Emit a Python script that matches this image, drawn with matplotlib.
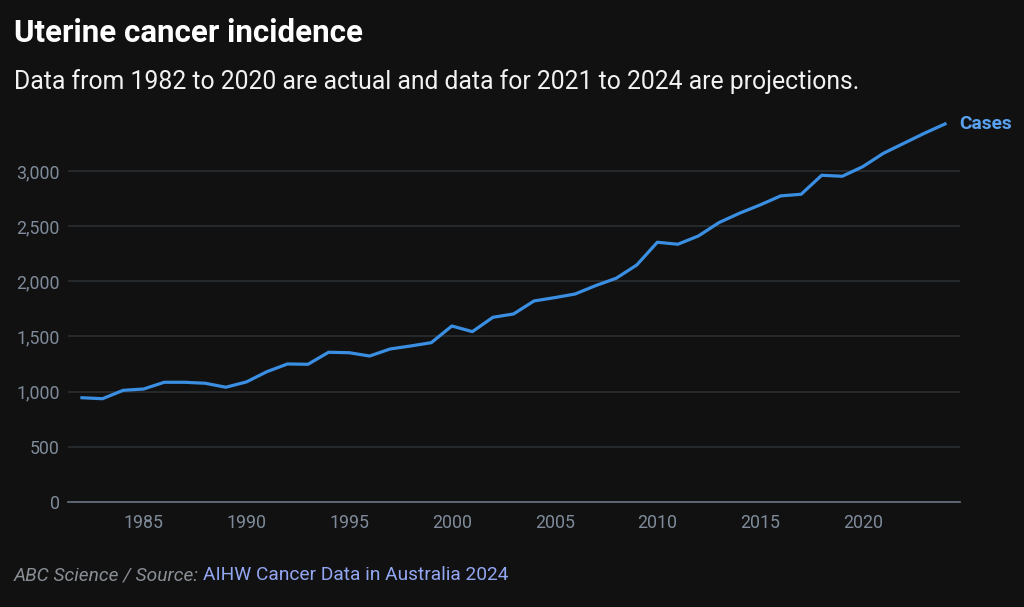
import matplotlib
matplotlib.use("Agg")
import matplotlib.pyplot as plt
from matplotlib.ticker import FuncFormatter

years = list(range(1982, 2025))
cases = [945, 936, 1012, 1024, 1085, 1085, 1076, 1040, 1088, 1181,
         1251, 1248, 1357, 1353, 1323, 1387, 1414, 1444, 1595, 1544,
         1674, 1704, 1822, 1852, 1885, 1961, 2028, 2148, 2354, 2336,
         2411, 2532, 2617, 2692, 2774, 2789, 2961, 2952, 3039, 3160,
         3251, 3342, 3426]
xticks = [1985, 1990, 1995, 2000, 2005, 2010, 2015, 2020]
yticks = [0, 500, 1000, 1500, 2000, 2500, 3000]

BG = "#111111"
LINE = "#3b8fe2"
LABEL = "#5aa2f0"
GRID = "#2b2e31"
TICK = "#7f8b9a"

plt.rcParams['font.family'] = ['Roboto', 'DejaVu Sans']

fig = plt.figure(figsize=(10.24, 6.07), dpi=100, facecolor=BG)
ax = fig.add_axes([68/1024, 1-502/607, (960-68)/1024, (502-115.8)/607])
ax.set_facecolor(BG)
ax.plot(years, cases, color=LINE, lw=2.3, solid_joinstyle='round', clip_on=False)
ax.set_xlim(1981.32, 2024.73)
ax.set_ylim(0, 3500)
ax.set_xticks(xticks)
ax.set_yticks(yticks)
ax.yaxis.set_major_formatter(FuncFormatter(lambda v, p: f"{int(v):,}"))
ax.tick_params(axis='both', length=0, colors=TICK, labelsize=12.8)
ax.tick_params(axis='x', pad=9)
ax.tick_params(axis='y', pad=6)
for s in ['top', 'right', 'left']:
    ax.spines[s].set_visible(False)
ax.spines['bottom'].set_color('#6b7684')
ax.spines['bottom'].set_linewidth(1.2)
ax.grid(axis='y', color=GRID, lw=1.2)
ax.set_axisbelow(True)
for gl in ax.yaxis.get_gridlines()[:1]:
    gl.set_visible(False)

ax.annotate("Cases", xy=(years[-1], cases[-1]), xytext=(10, 0), textcoords='offset points',
            color=LABEL, fontsize=13.8, fontweight='bold', va='center', ha='left',
            annotation_clip=False)

fig.text(14/1024, 1-33/607, "Uterine cancer incidence", color='white', fontsize=22.5,
         fontweight='bold', va='center', ha='left')
fig.text(14/1024, 1-82/607, "Data from 1982 to 2020 are actual and data for 2021 to 2024 are projections.",
         color='#f2f2f2', fontsize=17.8, va='center', ha='left')
t1 = fig.text(14/1024, 1-575/607, "ABC Science / Source:", color='#8a8f96', fontsize=13.8,
              style='italic', va='center', ha='left')
ax.annotate("AIHW Cancer Data in Australia 2024", xy=(1, 0.5), xycoords=t1,
            xytext=(3, 0), textcoords='offset points',
            va='center', ha='left', color='#93a6f2', fontsize=13.8, annotation_clip=False)

fig.savefig("out.png", dpi=100, facecolor=BG)
